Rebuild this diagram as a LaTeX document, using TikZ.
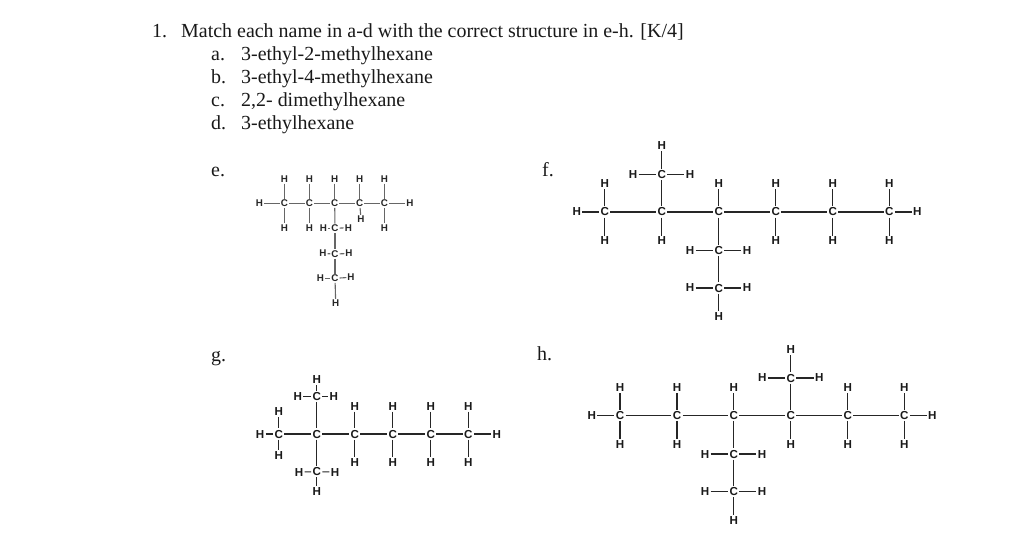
\documentclass[tikz,border=0pt]{standalone}
\usepackage{fontspec}
\setmainfont{Liberation Serif}
\newfontfamily\chemfont{Liberation Sans}
\tikzset{
  x=1pt,y=-1pt,
  txt/.style={anchor=base west,inner sep=0pt,font=\fontsize{19.95}{22}\selectfont,text=black!90},
  atomf/.style={inner sep=0.9pt,font=\chemfont\bfseries\fontsize{11.6}{12}\selectfont,text=black!90},
  atoms/.style={inner sep=0.6pt,font=\chemfont\bfseries\fontsize{9.8}{10}\selectfont,text=black!85},
  bond/.style={draw=black!85,line width=1.1pt},
  bonds/.style={draw=black!60,line width=1.1pt}
}
\newcommand{\At}[4]{\node (#1) at (#2,#3) {#4};}
\newcommand{\Bo}[2]{\draw (#1) -- (#2);}
\begin{document}
\begin{tikzpicture}
\useasboundingbox (0,0) rectangle (1024,536);
\node[txt] (t0a) at (152,37) {1.};
\node[txt] (t0) at (181,37) {Match each name in a-d with the correct structure in e-h. [K/4]};
\node[txt] (ta1) at (211,60) {a.};
\node[txt] (ta) at (241,60) {3-ethyl-2-methylhexane};
\node[txt] (tb1) at (211,83) {b.};
\node[txt] (tb) at (241,83) {3-ethyl-4-methylhexane};
\node[txt] (tc1) at (211,106) {c.};
\node[txt] (tc) at (241,106) {2,2- dimethylhexane};
\node[txt] (td1) at (211,129) {d.};
\node[txt] (td) at (241,129) {3-ethylhexane};
\node[txt] (le) at (211,176) {e.};
\node[txt] (lf) at (542,176) {f.};
\node[txt] (lg) at (211,361) {g.};
\node[txt] (lh) at (537,360) {h.};

% structure e
\begin{scope}[every node/.style={atoms},bonds]
\At{e1}{284.3}{203.3}{C}\At{e2}{309.3}{203.3}{C}\At{e3}{334.7}{203.3}{C}\At{e4}{359.7}{203.3}{C}\At{e5}{384.3}{203.3}{C}
\At{e1t}{284.3}{179}{H}\At{e2t}{309.3}{179}{H}\At{e3t}{334.7}{179}{H}\At{e4t}{359.7}{179}{H}\At{e5t}{384.3}{179}{H}
\At{e1b}{284.3}{228}{H}\At{e2b}{309.3}{228}{H}\At{e4b}{361}{219.3}{H}\At{e5b}{384.3}{228}{H}
\At{e1l}{259.3}{203.3}{H}\At{e5r}{410}{203.3}{H}
\At{e6}{335}{228.3}{C}\At{e6l}{323.3}{228.3}{H}\At{e6r}{348.3}{227.7}{H}
\At{e7}{335}{254}{C}\At{e7l}{323}{253.5}{H}\At{e7r}{349}{253.5}{H}
\At{e8}{335}{278.3}{C}\At{e8l}{320.3}{278.3}{H}\At{e8r}{351}{277.3}{H}\At{e8b}{335.7}{303.3}{H}
\Bo{e1l}{e1}\Bo{e1}{e2}\Bo{e2}{e3}\Bo{e3}{e4}\Bo{e4}{e5}\Bo{e5}{e5r}
\Bo{e1t}{e1}\Bo{e2t}{e2}\Bo{e3t}{e3}\Bo{e4t}{e4}\Bo{e5t}{e5}
\Bo{e1}{e1b}\Bo{e2}{e2b}\Bo{e4}{e4b}\Bo{e5}{e5b}
\Bo{e3}{e6}\Bo{e6}{e7}\Bo{e7}{e8}\Bo{e8}{e8b}
\Bo{e6l}{e6}\Bo{e6}{e6r}\Bo{e7l}{e7}\Bo{e7}{e7r}\Bo{e8l}{e8}\Bo{e8}{e8r}
\end{scope}

% structure f
\begin{scope}[every node/.style={atomf},bond]
\At{f1}{604.7}{212}{C}\At{f2}{661.7}{212}{C}\At{f3}{718.7}{212}{C}\At{f4}{775.7}{212}{C}\At{f5}{832.7}{212}{C}\At{f6}{889.3}{212}{C}
\At{f1t}{604.7}{183.7}{H}\At{f3t}{718.7}{183.7}{H}\At{f4t}{775.7}{183.7}{H}\At{f5t}{832.7}{183.7}{H}\At{f6t}{889.3}{183.7}{H}
\At{f1b}{604.7}{241}{H}\At{f2b}{661.7}{241}{H}\At{f4b}{775.7}{241}{H}\At{f5b}{832.7}{241}{H}\At{f6b}{889.3}{241}{H}
\At{f1l}{576.7}{212}{H}\At{f6r}{917.3}{212}{H}
\At{f7}{661.7}{174.5}{C}\At{f7t}{661.7}{146}{H}\At{f7l}{633}{174.5}{H}\At{f7r}{690}{174.5}{H}
\At{f8}{718.7}{250.7}{C}\At{f8l}{690}{250.7}{H}\At{f8r}{747}{250.7}{H}
\At{f9}{718.7}{288}{C}\At{f9l}{690}{288}{H}\At{f9r}{747}{288}{H}\At{f9b}{718.7}{316.7}{H}
\Bo{f1l}{f1}\Bo{f1}{f2}\Bo{f2}{f3}\Bo{f3}{f4}\Bo{f4}{f5}\Bo{f5}{f6}\Bo{f6}{f6r}
\Bo{f1t}{f1}\Bo{f3t}{f3}\Bo{f4t}{f4}\Bo{f5t}{f5}\Bo{f6t}{f6}
\Bo{f1}{f1b}\Bo{f2}{f2b}\Bo{f4}{f4b}\Bo{f5}{f5b}\Bo{f6}{f6b}
\Bo{f7}{f2}\Bo{f7t}{f7}\Bo{f7l}{f7}\Bo{f7}{f7r}
\Bo{f3}{f8}\Bo{f8}{f9}\Bo{f9}{f9b}\Bo{f8l}{f8}\Bo{f8}{f8r}\Bo{f9l}{f9}\Bo{f9}{f9r}
\end{scope}

% structure g
\begin{scope}[every node/.style={atomf},bond]
\At{g1}{278.7}{434}{C}\At{g2}{316.7}{434}{C}\At{g3}{354.7}{434}{C}\At{g4}{392.7}{434}{C}\At{g5}{430.7}{434}{C}\At{g6}{468.3}{434}{C}
\At{g1t}{278.7}{412}{H}\At{g1b}{278.7}{455.7}{H}\At{g1l}{260}{434}{H}\At{g6r}{496.7}{434}{H}
\At{g3t}{354.7}{406.3}{H}\At{g4t}{392.7}{406.3}{H}\At{g5t}{430.7}{406.3}{H}\At{g6t}{468.3}{406.3}{H}
\At{g3b}{354.7}{462.7}{H}\At{g4b}{392.7}{462.7}{H}\At{g5b}{430.7}{462.7}{H}\At{g6b}{468.3}{462.7}{H}
\At{g7}{316.7}{396.7}{C}\At{g7t}{316.7}{380}{H}\At{g7l}{297.7}{396.7}{H}\At{g7r}{333.7}{396.7}{H}
\At{g8}{316.7}{471.7}{C}\At{g8b}{316.7}{491}{H}\At{g8l}{299}{472}{H}\At{g8r}{335}{472}{H}
\Bo{g1l}{g1}\Bo{g1}{g2}\Bo{g2}{g3}\Bo{g3}{g4}\Bo{g4}{g5}\Bo{g5}{g6}\Bo{g6}{g6r}
\Bo{g1t}{g1}\Bo{g1}{g1b}
\Bo{g3t}{g3}\Bo{g4t}{g4}\Bo{g5t}{g5}\Bo{g6t}{g6}
\Bo{g3}{g3b}\Bo{g4}{g4b}\Bo{g5}{g5b}\Bo{g6}{g6b}
\Bo{g7}{g2}\Bo{g2}{g8}\Bo{g7t}{g7}\Bo{g7l}{g7}\Bo{g7}{g7r}
\Bo{g8}{g8b}\Bo{g8l}{g8}\Bo{g8}{g8r}
\end{scope}

% structure h
\begin{scope}[every node/.style={atomf},bond]
\At{h1}{620}{415.3}{C}\At{h2}{677}{415.3}{C}\At{h3}{733.7}{415.3}{C}\At{h4}{790.7}{415.3}{C}\At{h5}{847.7}{415.3}{C}\At{h6}{904.3}{415.3}{C}
\At{h1t}{620}{387.7}{H}\At{h2t}{677}{387.7}{H}\At{h3t}{733.7}{387.7}{H}\At{h5t}{847.7}{387.7}{H}\At{h6t}{904.3}{387.7}{H}
\At{h1b}{620}{444.3}{H}\At{h2b}{677}{444.3}{H}\At{h4b}{790.7}{444.3}{H}\At{h5b}{847.7}{444.3}{H}\At{h6b}{904.3}{444.3}{H}
\At{h1l}{591.7}{415.3}{H}\At{h6r}{932.3}{415.3}{H}
\At{h7}{790.7}{378}{C}\At{h7t}{790.7}{350}{H}\At{h7l}{762.3}{378}{H}\At{h7r}{819.3}{378}{H}
\At{h8}{733.7}{454}{C}\At{h8l}{705}{454}{H}\At{h8r}{762}{454}{H}
\At{h9}{733.7}{491.7}{C}\At{h9l}{705}{491.7}{H}\At{h9r}{762}{491.7}{H}\At{h9b}{733.7}{520}{H}
\Bo{h1l}{h1}\Bo{h1}{h2}\Bo{h2}{h3}\Bo{h3}{h4}\Bo{h4}{h5}\Bo{h5}{h6}\Bo{h6}{h6r}
\Bo{h1t}{h1}\Bo{h2t}{h2}\Bo{h3t}{h3}\Bo{h5t}{h5}\Bo{h6t}{h6}
\Bo{h1}{h1b}\Bo{h2}{h2b}\Bo{h4}{h4b}\Bo{h5}{h5b}\Bo{h6}{h6b}
\Bo{h7}{h4}\Bo{h7t}{h7}\Bo{h7l}{h7}\Bo{h7}{h7r}
\Bo{h3}{h8}\Bo{h8}{h9}\Bo{h9}{h9b}\Bo{h8l}{h8}\Bo{h8}{h8r}\Bo{h9l}{h9}\Bo{h9}{h9r}
\end{scope}
\end{tikzpicture}
\end{document}
